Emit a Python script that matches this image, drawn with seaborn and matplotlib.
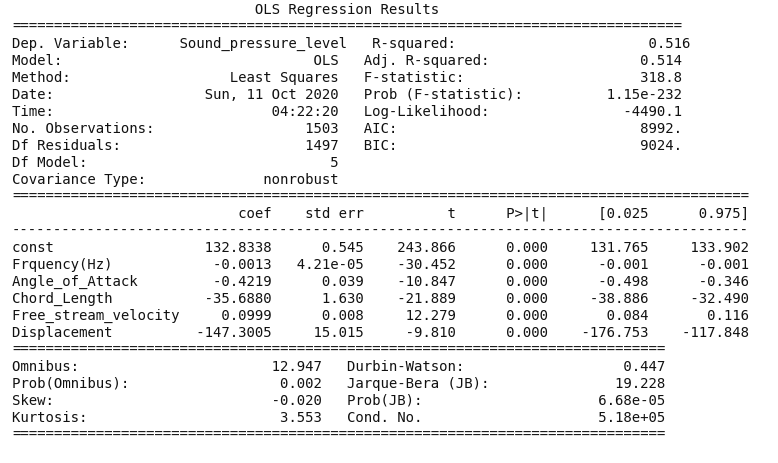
import matplotlib
matplotlib.use("Agg")
import matplotlib.pyplot as plt
import seaborn as sns

sns.set_style("white")
plt.rcParams['font.family'] = ['DejaVu Sans Mono']

# summary contents
title = "OLS Regression Results"
top_left = [("Dep. Variable:", "Sound_pressure_level"), ("Model:", "OLS"),
            ("Method:", "Least Squares"), ("Date:", "Sun, 11 Oct 2020"),
            ("Time:", "04:22:20"), ("No. Observations:", "1503"),
            ("Df Residuals:", "1497"), ("Df Model:", "5"),
            ("Covariance Type:", "nonrobust")]
top_right = [("R-squared:", "0.516"), ("Adj. R-squared:", "0.514"),
             ("F-statistic:", "318.8"), ("Prob (F-statistic):", "1.15e-232"),
             ("Log-Likelihood:", "-4490.1"), ("AIC:", "8992."), ("BIC:", "9024.")]
coef_header = ["coef", "std err", "t", "P>|t|", "[0.025", "0.975]"]
names = ["const", "Frquency(Hz)", "Angle_of_Attack", "Chord_Length",
         "Free_stream_velocity", "Displacement"]
coef = ["132.8338", "-0.0013", "-0.4219", "-35.6880", "0.0999", "-147.3005"]
std_err = ["0.545", "4.21e-05", "0.039", "1.630", "0.008", "15.015"]
t_val = ["243.866", "-30.452", "-10.847", "-21.889", "12.279", "-9.810"]
p_val = ["0.000"] * 6
ci_low = ["131.765", "-0.001", "-0.498", "-38.886", "0.084", "-176.753"]
ci_high = ["133.902", "-0.001", "-0.346", "-32.490", "0.116", "-117.848"]
bot_left = [("Omnibus:", "12.947"), ("Prob(Omnibus):", "0.002"),
            ("Skew:", "-0.020"), ("Kurtosis:", "3.553")]
bot_right = [("Durbin-Watson:", "0.447"), ("Jarque-Bera (JB):", "19.228"),
             ("Prob(JB):", "6.68e-05"), ("Cond. No.", "5.18e+05")]

W, H = 778, 464
fig = plt.figure(figsize=(W / 100, H / 100), dpi=100)


def put(y, s):
    fig.text(12 / W, 1 - y / H, s, fontsize=10.1, va="center", ha="left",
             color="#111111")


def pair(l, r, lw, rw):
    s = f"{l[0]:<20}{l[1]:>{lw - 20}}" if l else " " * lw
    if r:
        s += "   " + f"{r[0]:<20}{r[1]:>{rw - 20}}"
    return s


lines = []
lines.append((10, f"{title:^80}"))
lines.append((27, "=" * 80))
for i, l in enumerate(top_left):
    r = top_right[i] if i < len(top_right) else None
    lines.append((44 + 17 * i, pair(l, r, 39, 38)))
lines.append((197, "=" * 88))
widths = [11, 11, 11, 11, 12, 12]
lines.append((214, " " * 20 + "".join(f"{h:>{w}}" for h, w in zip(coef_header, widths))))
lines.append((231, "-" * 88))
for i, n in enumerate(names):
    vals = [coef[i], std_err[i], t_val[i], p_val[i], ci_low[i], ci_high[i]]
    lines.append((248 + 17 * i, f"{n:<20}" + "".join(f"{v:>{w}}" for v, w in zip(vals, widths))))
lines.append((350, "=" * 78))
for i, l in enumerate(bot_left):
    lines.append((367 + 17 * i, pair(l, bot_right[i], 37, 38)))
lines.append((435, "=" * 78))

for y, s in lines:
    put(y, s)

fig.savefig("out.png", dpi=100, facecolor="white")
